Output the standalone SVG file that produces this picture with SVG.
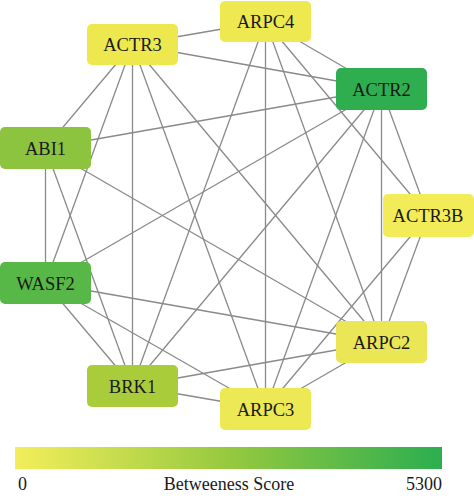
<svg xmlns="http://www.w3.org/2000/svg" width="474" height="498" viewBox="0 0 474 498">
<defs>
<style>
.edge{stroke:#8a8a8a;stroke-width:1.3;fill:none}
.lbl{font-size:18.5px;fill:#1a1a1a;text-anchor:middle}
.leg{font-size:18px;fill:#1a1a1a}
</style>
<linearGradient id="bar" x1="0" y1="0" x2="1" y2="0">
<stop offset="0" stop-color="#f3ee5b"/>
<stop offset="0.5" stop-color="#96c93f"/>
<stop offset="1" stop-color="#2cae50"/>
</linearGradient>
</defs>
<rect width="474" height="498" fill="#ffffff"/>
<g id="connectors">
<line class="edge" x1="132.5" y1="44.5" x2="265.5" y2="21.5"/>
<line class="edge" x1="132.5" y1="44.5" x2="381.5" y2="89"/>
<line class="edge" x1="132.5" y1="44.5" x2="45.5" y2="148"/>
<line class="edge" x1="132.5" y1="44.5" x2="45.5" y2="283"/>
<line class="edge" x1="132.5" y1="44.5" x2="132.5" y2="386"/>
<line class="edge" x1="132.5" y1="44.5" x2="265.5" y2="409"/>
<line class="edge" x1="132.5" y1="44.5" x2="381.5" y2="342"/>
<line class="edge" x1="265.5" y1="21.5" x2="381.5" y2="89"/>
<line class="edge" x1="265.5" y1="21.5" x2="132.5" y2="386"/>
<line class="edge" x1="265.5" y1="21.5" x2="265.5" y2="409"/>
<line class="edge" x1="265.5" y1="21.5" x2="381.5" y2="342"/>
<line class="edge" x1="265.5" y1="21.5" x2="428" y2="215.5"/>
<line class="edge" x1="381.5" y1="89" x2="45.5" y2="148"/>
<line class="edge" x1="381.5" y1="89" x2="45.5" y2="283"/>
<line class="edge" x1="381.5" y1="89" x2="132.5" y2="386"/>
<line class="edge" x1="381.5" y1="89" x2="265.5" y2="409"/>
<line class="edge" x1="381.5" y1="89" x2="381.5" y2="342"/>
<line class="edge" x1="381.5" y1="89" x2="428" y2="215.5"/>
<line class="edge" x1="428" y1="215.5" x2="265.5" y2="409"/>
<line class="edge" x1="428" y1="215.5" x2="381.5" y2="342"/>
<line class="edge" x1="45.5" y1="148" x2="45.5" y2="283"/>
<line class="edge" x1="45.5" y1="148" x2="132.5" y2="386"/>
<line class="edge" x1="45.5" y1="148" x2="381.5" y2="342"/>
<line class="edge" x1="45.5" y1="283" x2="381.5" y2="342"/>
<line class="edge" x1="45.5" y1="283" x2="132.5" y2="386"/>
<line class="edge" x1="45.5" y1="283" x2="265.5" y2="409"/>
<line class="edge" x1="132.5" y1="386" x2="381.5" y2="342"/>
<line class="edge" x1="132.5" y1="386" x2="265.5" y2="409"/>
<line class="edge" x1="265.5" y1="409" x2="381.5" y2="342"/>
</g>
<g font-family="Liberation Serif, DejaVu Serif, serif">
<g id="ACTR3"><rect x="87" y="24" width="91" height="41" rx="5" fill="#ece84e"/><text class="lbl" x="132.5" y="51">ACTR3</text></g>
<g id="ARPC4"><rect x="220" y="1" width="91" height="41" rx="5" fill="#efe951"/><text class="lbl" x="265.5" y="28">ARPC4</text></g>
<g id="ACTR2"><rect x="336" y="68" width="91" height="42" rx="5" fill="#2fae50"/><text class="lbl" x="381.5" y="95.5">ACTR2</text></g>
<g id="ACTR3B"><rect x="383" y="194" width="91" height="43" rx="5" fill="#f1ec58"/><text class="lbl" x="428" y="222">ACTR3B</text></g>
<g id="ABI1"><rect x="0" y="127" width="91" height="42" rx="5" fill="#8cc43f"/><text class="lbl" x="45.5" y="154.5">ABI1</text></g>
<g id="WASF2"><rect x="0" y="262" width="91" height="42" rx="5" fill="#58b847"/><text class="lbl" x="45.5" y="289.5">WASF2</text></g>
<g id="BRK1"><rect x="87" y="365" width="91" height="42" rx="5" fill="#a9cd3a"/><text class="lbl" x="132.5" y="392.5">BRK1</text></g>
<g id="ARPC3"><rect x="220" y="388" width="91" height="42" rx="5" fill="#ede954"/><text class="lbl" x="265.5" y="415.5">ARPC3</text></g>
<g id="ARPC2"><rect x="336" y="321" width="91" height="42" rx="5" fill="#ebe655"/><text class="lbl" x="381.5" y="348.5">ARPC2</text></g>
<g id="legend">
<rect x="15" y="447" width="427" height="22" fill="url(#bar)"/>
<text class="leg" x="18" y="490">0</text>
<text class="leg" x="229" y="490" text-anchor="middle">Betweeness Score</text>
<text class="leg" x="442" y="490" text-anchor="end">5300</text>
</g>
</g>
</svg>
